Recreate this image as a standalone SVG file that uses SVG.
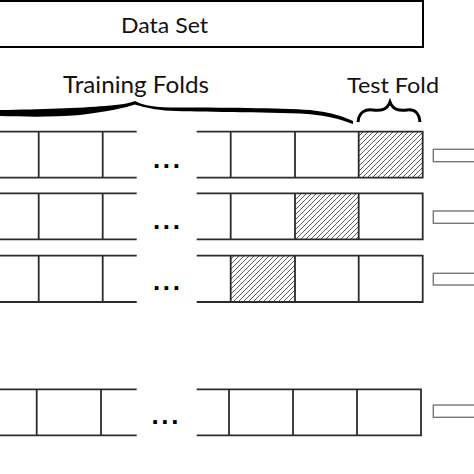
<svg xmlns="http://www.w3.org/2000/svg" width="474" height="474" viewBox="0 0 474 474">
<style>
.lbl{font-family:Lato,"Liberation Sans",Arial,sans-serif;fill:#111;}
.grid{fill:none;stroke:#2b2b2b;stroke-width:1.8;}
.dots{font-family:"Liberation Sans",Arial,sans-serif;font-weight:bold;font-size:26px;fill:#000;letter-spacing:2.6px;}
.side{fill:#fff;stroke:#777;stroke-width:1.4;}
.hatch{fill:url(#hatch);stroke:none;}
</style>
<defs>
<pattern id="hatch" patternUnits="userSpaceOnUse" width="5" height="5">
<path d="M-1,1 L1,-1 M0,5 L5,0 M4,6 L6,4" stroke="#333" stroke-width="0.8"/>
</pattern>
</defs>
<rect width="474" height="474" fill="#fff"/>
<g id="dataset">
<rect x="-5" y="1" width="428" height="46" fill="#fff" stroke="#000" stroke-width="2"/>
<text class="lbl" x="121" y="33" font-size="22" textLength="87" lengthAdjust="spacingAndGlyphs">Data Set</text>
</g>
<g id="training-label">
<text class="lbl" x="63" y="93" font-size="22.5" textLength="146" lengthAdjust="spacingAndGlyphs">Training Folds</text>
<path d="M0,110 C40,109.5 80,108 105,106 C120,105 130,103 135,101 C140,104 150,107 170,107.5 C220,107.5 280,108 310,110 C330,112 345,117 353,121 L353,124 C340,119 320,114 300,113.5 C250,112 190,112 165,110.5 C150,109 140,106 135,104.5 C125,108 105,112 80,115 C50,117.5 20,116.5 0,116 Z" fill="#000"/>
</g>
<g id="test-label">
<text class="lbl" x="347" y="93" font-size="22" textLength="92" lengthAdjust="spacingAndGlyphs">Test Fold</text>
<path d="M358,122 C359,112 365,109 373,110 C381,111 387,110 390,102 C393,110 399,111 407,110 C415,109 419,113 420,122" fill="none" stroke="#000" stroke-width="3"/>
</g>
<g id="row1">
<rect class="hatch" x="358.7" y="131.7" width="64" height="46"/>
<path class="grid" d="M0,131.7 H136.7 M0,177.7 H136.7 M196.7,131.7 H422.7 V177.7 H196.7 M38.7,131.7 V177.7 M102.7,131.7 V177.7 M230.7,131.7 V177.7 M295,131.7 V177.7 M358.7,131.7 V177.7"/>
<text class="dots" x="153" y="167.5">...</text>
<rect class="side" x="433.3" y="149.3" width="50" height="12.4"/>
</g>
<g id="row2">
<rect class="hatch" x="295" y="193.3" width="63.7" height="46"/>
<path class="grid" d="M0,193.3 H136.7 M0,239.3 H136.7 M196.7,193.3 H422.7 V239.3 H196.7 M38.7,193.3 V239.3 M102.7,193.3 V239.3 M230.7,193.3 V239.3 M295,193.3 V239.3 M358.7,193.3 V239.3"/>
<text class="dots" x="153" y="229">...</text>
<rect class="side" x="433.3" y="211" width="50" height="12.3"/>
</g>
<g id="row3">
<rect class="hatch" x="230.7" y="255.7" width="64.3" height="46.3"/>
<path class="grid" d="M0,255.7 H136.7 M0,302 H136.7 M196.7,255.7 H422.7 V302 H196.7 M38.7,255.7 V302 M102.7,255.7 V302 M230.7,255.7 V302 M295,255.7 V302 M358.7,255.7 V302"/>
<text class="dots" x="153" y="290">...</text>
<rect class="side" x="433.3" y="273.3" width="50" height="11.7"/>
</g>
<g id="rowN">
<path class="grid" d="M0,389.3 H136.7 M0,435.3 H136.7 M196.7,389.3 H421 V435.3 H196.7 M36.7,389.3 V435.3 M101,389.3 V435.3 M229,389.3 V435.3 M293,389.3 V435.3 M357,389.3 V435.3"/>
<text class="dots" x="151.5" y="424">...</text>
<rect class="side" x="433.3" y="405" width="50" height="12.3"/>
</g>
</svg>
